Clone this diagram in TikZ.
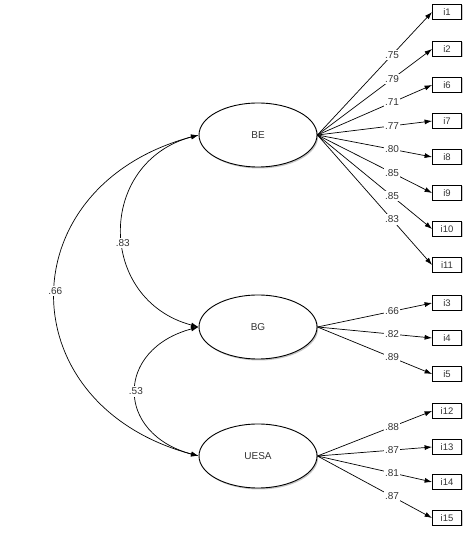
\documentclass[tikz,border=0pt]{standalone}
\usepackage{fontspec}
\setmainfont{Liberation Sans}
\usepackage{tikz}
\usetikzlibrary{arrows.meta,shapes.geometric,shadows}

\begin{document}
\begin{tikzpicture}[
  x=1pt, y=1pt,
  latent/.style={draw, ellipse, line width=0.9pt, fill=white, text=black!80,
    minimum width=118pt, minimum height=64pt, font=\fontsize{10}{11}\selectfont,
    drop shadow={shadow xshift=1.2pt, shadow yshift=-1.5pt, opacity=0.45}},
  item/.style={draw, rectangle, line width=0.8pt, fill=white, inner sep=1pt, text=black!80,
    minimum width=29pt, minimum height=15pt, font=\fontsize{9.5}{10}\selectfont,
    drop shadow={shadow xshift=1pt, shadow yshift=-1pt, opacity=0.4}},
  load/.style={-{Latex[length=7.5pt,width=5pt]}, line width=0.7pt},
  cov/.style={{Latex[length=7.5pt,width=5pt]}-{Latex[length=7.5pt,width=5pt]}, line width=0.7pt},
  val/.style={fill=white, inner sep=1.5pt, text=black!80, font=\fontsize{10}{11}\selectfont}
]
\useasboundingbox (0,0) rectangle (474,543);

% latent factors
\node[latent] (BE) at (258,408) {BE};
\node[latent] (BG) at (258,216) {BG};
\node[latent] (UESA) at (258,87) {UESA};

% indicators
\node[item] (i1) at (447,531) {i1};
\node[item] (i2) at (447,494) {i2};
\node[item] (i6) at (447,458) {i6};
\node[item] (i7) at (447,422) {i7};
\node[item] (i8) at (447,386) {i8};
\node[item] (i9) at (447,350) {i9};
\node[item] (i10) at (447,314) {i10};
\node[item] (i11) at (447,278) {i11};
\node[item] (i3) at (447,240) {i3};
\node[item] (i4) at (447,205) {i4};
\node[item] (i5) at (447,169) {i5};
\node[item] (i12) at (447,132) {i12};
\node[item] (i13) at (447,96) {i13};
\node[item] (i14) at (447,61) {i14};
\node[item] (i15) at (447,25) {i15};

% loadings
\draw[load] (BE.east) -- node[val, pos=0.65] {.75} (i1.west);
\draw[load] (BE.east) -- node[val, pos=0.65] {.79} (i2.west);
\draw[load] (BE.east) -- node[val, pos=0.65] {.71} (i6.west);
\draw[load] (BE.east) -- node[val, pos=0.65] {.77} (i7.west);
\draw[load] (BE.east) -- node[val, pos=0.65] {.80} (i8.west);
\draw[load] (BE.east) -- node[val, pos=0.65] {.85} (i9.west);
\draw[load] (BE.east) -- node[val, pos=0.65] {.85} (i10.west);
\draw[load] (BE.east) -- node[val, pos=0.65] {.83} (i11.west);
\draw[load] (BG.east) -- node[val, pos=0.65] {.66} (i3.west);
\draw[load] (BG.east) -- node[val, pos=0.65] {.82} (i4.west);
\draw[load] (BG.east) -- node[val, pos=0.65] {.89} (i5.west);
\draw[load] (UESA.east) -- node[val, pos=0.65] {.88} (i12.west);
\draw[load] (UESA.east) -- node[val, pos=0.65] {.87} (i13.west);
\draw[load] (UESA.east) -- node[val, pos=0.65] {.81} (i14.west);
\draw[load] (UESA.east) -- node[val, pos=0.65] {.87} (i15.west);

% correlations
\draw[cov] (BE.west) to[out=195, in=165, looseness=1.41] node[val, pos=0.55] {.83} (BG.west);
\draw[cov] (BE.west) to[out=195, in=165, looseness=1.58] node[val, pos=0.49] {.66} (UESA.west);
\draw[cov] (BG.west) to[out=195, in=165, looseness=1.72] node[val] {.53} (UESA.west);
\end{tikzpicture}
\end{document}
